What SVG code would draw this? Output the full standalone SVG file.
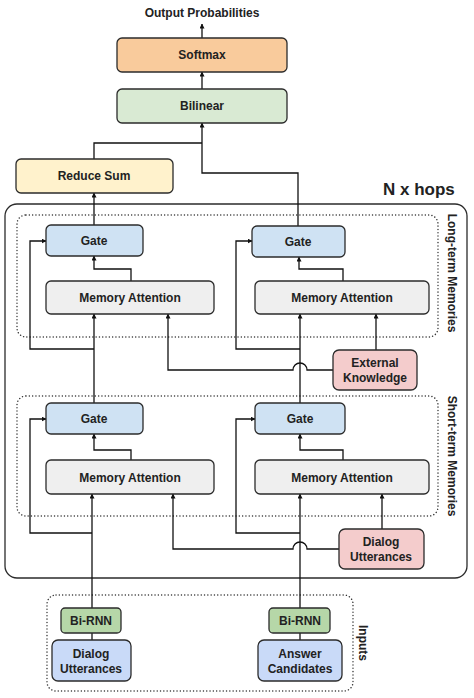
<svg xmlns="http://www.w3.org/2000/svg" width="474" height="698" viewBox="0 0 474 698">
<defs>
<marker id="ah" viewBox="0 0 10 10" refX="9" refY="5" markerWidth="5" markerHeight="5" orient="auto" markerUnits="userSpaceOnUse">
<path d="M0,0 L10,5 L0,10 z" fill="#111"/>
</marker>
<style>
.box{stroke:#2b2b2b;stroke-width:1.3}
.t{font-family:"Liberation Sans",Arial,sans-serif;font-weight:bold;font-size:12px;fill:#222;text-anchor:middle}
.c{fill:none;stroke:#111;stroke-width:1.3}
.a{marker-end:url(#ah)}
.dot{fill:none;stroke:#333;stroke-width:1.4;stroke-dasharray:0.1 3.2;stroke-linecap:round}
.gate{fill:#cfe2f3}
.ma{fill:#efefef}
.pink{fill:#f4cccc}
.green{fill:#d9ead3}
.bgreen{fill:#b6d7a8}
.blue{fill:#c9daf8}
</style>
</defs>
<rect width="474" height="698" fill="#fff"/>

<g id="frames">
<rect x="5" y="204" width="462" height="374" rx="12" fill="none" stroke="#2b2b2b" stroke-width="1.3"/>
<rect class="dot" x="17" y="215" width="421" height="122" rx="9"/>
<rect class="dot" x="17" y="396" width="421" height="120" rx="9"/>
<rect class="dot" x="47" y="595" width="306" height="96" rx="9"/>
<text class="t" x="383" y="195" text-anchor="start" style="font-size:17px;text-anchor:start">N x hops</text>
<text class="t" transform="translate(448,273) rotate(90)">Long-term Memories</text>
<text class="t" transform="translate(448,456) rotate(90)">Short-term Memories</text>
<text class="t" transform="translate(359,643) rotate(90)">Inputs</text>
</g>

<g id="connectors">
<path class="c a" d="M202,38 V24"/>
<path class="c a" d="M202,89 V72"/>
<path class="c" d="M94,159 V143 H202"/>
<path class="c a" d="M298,226 V173 H202 V123"/>
<path class="c a" d="M94,225 V193"/>
<path class="c a" d="M131,281 V269 H94 V256"/>
<path class="c a" d="M343,281 V269 H299 V257"/>
<path class="c a" d="M94,403 V314"/>
<path class="c a" d="M94,349 H30 V241 H46"/>
<path class="c a" d="M300,403 V314"/>
<path class="c a" d="M300,349 H236 V241 H252"/>
<path class="c a" d="M376,350 V314"/>
<path class="c a" d="M333,370 H307 A7,7 0 0 0 293,370 H168 V314"/>
<path class="c a" d="M131,460 V450 H94 V434"/>
<path class="c a" d="M343,460 V450 H300 V434"/>
<path class="c a" d="M92,608 V494"/>
<path class="c a" d="M92,533 H30 V419 H46"/>
<path class="c a" d="M300,608 V494"/>
<path class="c a" d="M300,533 H236 V419 H255"/>
<path class="c a" d="M382,529 V494"/>
<path class="c a" d="M339,549 H307 A7,7 0 0 0 293,549 H173 V494"/>
<path class="c" d="M92,633 V640"/>
<path class="c" d="M300,633 V640"/>
</g>

<g id="output"><text class="t" x="202" y="17">Output Probabilities</text></g>
<g id="softmax"><rect class="box" x="117" y="38" width="170" height="34" rx="5" fill="#f9cb9c"/><text class="t" x="202" y="59">Softmax</text></g>
<g id="bilinear"><rect class="box green" x="117" y="89" width="170" height="34" rx="5"/><text class="t" x="202" y="110">Bilinear</text></g>
<g id="reducesum"><rect class="box" x="16" y="159" width="157" height="34" rx="5" fill="#fff2cc"/><text class="t" x="94" y="180">Reduce Sum</text></g>

<g id="lt-gate-l"><rect class="box gate" x="46" y="225" width="97" height="31" rx="5"/><text class="t" x="94" y="245">Gate</text></g>
<g id="lt-gate-r"><rect class="box gate" x="252" y="226" width="93" height="31" rx="5"/><text class="t" x="298" y="246">Gate</text></g>
<g id="lt-ma-l"><rect class="box ma" x="46" y="281" width="168" height="33" rx="5"/><text class="t" x="130" y="302">Memory Attention</text></g>
<g id="lt-ma-r"><rect class="box ma" x="255" y="281" width="174" height="33" rx="5"/><text class="t" x="342" y="302">Memory Attention</text></g>
<g id="ext-knowledge"><rect class="box pink" x="333" y="350" width="84" height="40" rx="6"/><text class="t" x="375" y="367">External</text><text class="t" x="375" y="382">Knowledge</text></g>

<g id="st-gate-l"><rect class="box gate" x="46" y="403" width="97" height="31" rx="5"/><text class="t" x="94" y="423">Gate</text></g>
<g id="st-gate-r"><rect class="box gate" x="255" y="403" width="90" height="31" rx="5"/><text class="t" x="300" y="423">Gate</text></g>
<g id="st-ma-l"><rect class="box ma" x="46" y="460" width="168" height="34" rx="5"/><text class="t" x="130" y="482">Memory Attention</text></g>
<g id="st-ma-r"><rect class="box ma" x="255" y="460" width="174" height="34" rx="5"/><text class="t" x="342" y="482">Memory Attention</text></g>
<g id="dialog-utt-mem"><rect class="box pink" x="339" y="529" width="85" height="40" rx="6"/><text class="t" x="381" y="546">Dialog</text><text class="t" x="381" y="561">Utterances</text></g>

<g id="birnn-l"><rect class="box bgreen" x="61" y="608" width="60" height="25" rx="4"/><text class="t" x="91" y="625">Bi-RNN</text></g>
<g id="birnn-r"><rect class="box bgreen" x="269" y="608" width="61" height="25" rx="4"/><text class="t" x="300" y="625">Bi-RNN</text></g>
<g id="dialog-utt-in"><rect class="box blue" x="52" y="640" width="79" height="41" rx="6"/><text class="t" x="91" y="658">Dialog</text><text class="t" x="91" y="673">Utterances</text></g>
<g id="answer-cand"><rect class="box blue" x="258" y="640" width="84" height="41" rx="6"/><text class="t" x="300" y="658">Answer</text><text class="t" x="300" y="673">Candidates</text></g>
</svg>
